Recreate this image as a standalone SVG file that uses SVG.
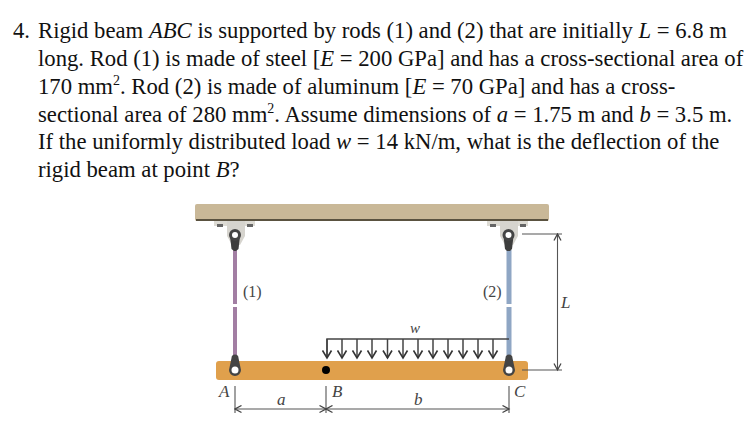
<svg xmlns="http://www.w3.org/2000/svg" width="755" height="440" viewBox="0 0 755 440">
<style>
.q{font-family:"Liberation Serif","Times New Roman",serif;font-size:22.7px;fill:#111}
.l{font-family:"Liberation Serif","Times New Roman",serif;font-size:16px;fill:#444}
.i{font-style:italic}
.d{stroke:#555;stroke-width:1.1;fill:none}
.a{stroke:#444;stroke-width:1.5;fill:none}
</style>
<defs>
<marker id="ah" markerWidth="9" markerHeight="9" refX="7.500" refY="4.500" orient="auto-start-reverse" markerUnits="userSpaceOnUse"><path d="M1 1L7.500 4.500L1 8" fill="none" stroke="#444" stroke-width="1.3"/></marker>
<marker id="lh" markerWidth="11" markerHeight="11" refX="8.500" refY="5.500" orient="auto" markerUnits="userSpaceOnUse"><path d="M1 1L8.500 5.500L1 10" fill="none" stroke="#333" stroke-width="1.6"/></marker>
<g id="bracket">
<rect x="-21" y="0" width="41" height="5" fill="#dddbd4"/>
<rect x="-18" y="3" width="6" height="3" fill="#666"/><rect x="12" y="3" width="6" height="3" fill="#666"/>
<path d="M-8 0H10V15L5 24H-3L-8 15Z" fill="#d6d4ce"/>
</g>
<g id="eye"><path d="M-3.500 -12A3.500 3.500 0 0 1 3.500 -12L6 0A6 6 0 0 1 -6 0Z" fill="#444"/><circle r="3.500" fill="#fff"/></g>
</defs>
<rect width="755" height="440" fill="#fff"/>
<g id="problem-text" class="q">
<text x="13" y="38">4.</text>
<text x="38" y="38">Rigid beam <tspan class="i">ABC</tspan> is supported by rods (1) and (2) that are initially <tspan class="i">L</tspan> = 6.8 m</text>
<text x="38" y="66">long. Rod (1) is made of steel [<tspan class="i">E</tspan> = 200 GPa] and has a cross-sectional area of</text>
<text x="38" y="94">170 mm<tspan font-size="14" dy="-9">2</tspan><tspan dy="9">. Rod (2) is made of aluminum [</tspan><tspan class="i">E</tspan> = 70 GPa] and has a cross-</text>
<text x="38" y="122">sectional area of 280 mm<tspan font-size="14" dy="-9">2</tspan><tspan dy="9">. Assume dimensions of </tspan><tspan class="i">a</tspan> = 1.75 m and <tspan class="i">b</tspan> = 3.5 m.</text>
<text x="38" y="149">If the uniformly distributed load <tspan class="i">w</tspan> = 14 kN/m, what is the deflection of the</text>
<text x="38" y="177">rigid beam at point <tspan class="i">B</tspan>?</text>
</g>
<g id="ceiling">
<rect x="195" y="204" width="354" height="17" rx="2" fill="#c9b898"/>
<rect x="196" y="219" width="352" height="2" fill="#5a5240"/>
</g>
<g id="bracket-1"><use href="#bracket" x="235" y="221"/></g>
<g id="bracket-2"><use href="#bracket" x="508" y="221"/></g>
<g id="rod-1">
<rect x="233" y="250" width="4" height="54" fill="#a27ea3"/>
<rect x="233" y="307" width="4" height="48" fill="#a27ea3"/>
<path d="M230 236H240L238.500 249L236 251H234L231.500 249Z" fill="#3d3d3d"/><circle cx="235" cy="235" r="6" fill="#444"/><circle cx="235" cy="235" r="3" fill="#fff"/>
</g>
<g id="rod-2">
<rect x="506.500" y="250" width="5" height="54" fill="#8fa6c4"/>
<rect x="506.500" y="307" width="5" height="48" fill="#8fa6c4"/>
<path d="M503.500 236H513.500L512 249L510 251H507L505 249Z" fill="#3d3d3d"/><circle cx="508.500" cy="235" r="6" fill="#444"/><circle cx="508.500" cy="235" r="3" fill="#fff"/>
</g>
<g id="beam">
<rect x="216" y="361" width="312" height="19" rx="3" fill="#e0a04c"/>
<use href="#eye" x="235" y="370"/>
<use href="#eye" x="509" y="370"/>
<circle cx="326" cy="370" r="4" fill="#000"/>
</g>
<g id="connectors">
<path class="a" d="M327 358V339H509"/>
<path class="a" marker-end="url(#lh)" d="M327 339V358"/><path class="a" marker-end="url(#lh)" d="M342 339V358"/><path class="a" marker-end="url(#lh)" d="M357 339V358"/><path class="a" marker-end="url(#lh)" d="M372 339V358"/><path class="a" marker-end="url(#lh)" d="M387.500 339V358"/><path class="a" marker-end="url(#lh)" d="M403 339V358"/><path class="a" marker-end="url(#lh)" d="M418 339V358"/><path class="a" marker-end="url(#lh)" d="M433 339V358"/><path class="a" marker-end="url(#lh)" d="M448 339V358"/><path class="a" marker-end="url(#lh)" d="M463 339V358"/><path class="a" marker-end="url(#lh)" d="M478 339V358"/><path class="a" marker-end="url(#lh)" d="M493 339V358"/>
<path class="d" d="M235 386V413M326 386V413M509 386V413M522 234H562M522 370H562"/>
<path class="d" d="M235 409H326" marker-start="url(#ah)" marker-end="url(#ah)"/>
<path class="d" d="M326 409H509" marker-start="url(#ah)" marker-end="url(#ah)"/>
<path class="d" d="M557.500 234V370" marker-start="url(#ah)" marker-end="url(#ah)"/>
</g>
<g id="labels" class="l">
<text x="243" y="297">(1)</text>
<text x="483" y="297">(2)</text>
<text class="i" x="561" y="308" font-size="17">L</text>
<text class="i" x="410" y="333" font-size="15">w</text>
<text class="i" x="219" y="397" font-size="17">A</text>
<text class="i" x="332" y="397" font-size="17">B</text>
<text class="i" x="514" y="397" font-size="17">C</text>
<text class="i" x="277" y="405" font-size="17">a</text>
<text class="i" x="414" y="405" font-size="17">b</text>
</g>
</svg>
